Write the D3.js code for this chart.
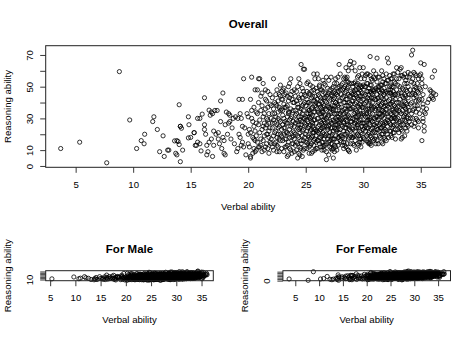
<!DOCTYPE html>
<html><head><meta charset="utf-8">
<script src="https://cdn.jsdelivr.net/npm/d3@7/dist/d3.min.js"></script>
<style>
body{margin:0;background:#fff;}
svg text{font-family:"Liberation Sans",Arial,Helvetica,sans-serif;fill:#000;}
</style></head><body>
<svg id="chart" width="474" height="338"></svg>
<script>
// ---------- DATA ----------
const xTicks = [5,10,15,20,25,30,35];
const overallYTicks = [0,10,20,30,40,50,60,70];
const overallYLabels = [0,10,30,50,70];
const maleYTicks = [10,20,30,40,50,60,70];
const maleYLabels = [10];
const femaleYTicks = [0,10,20,30,40,50,60];
const femaleYLabels = [0];
const titles = ["Overall","For Male","For Female"];
const xTitle = "Verbal ability";
const yTitle = "Reasoning ability";

// [verbal, reasoning]
const malePoints = [
[5.35,15],[9.7,29],[10.7,16],[11.0,20],[11.8,31],[12.1,23],[12.6,19],[13.1,10],[13.8,16],[13.7,8],[14.0,13.5],[14.1,25],[14.3,10],[14.8,31],[15.0,18],[15.3,21],[15.4,13],[15.6,15],[15.8,30],[15.9,9.5],[16.2,43],[16.2,26],[16.3,20],[16.4,13],[16.7,32],[16.8,17],[17.0,22],[17.3,35],[17.4,17],[17.4,21],[17.6,41],[17.7,11],[17.8,18],[17.9,16],[18.0,7],[18.0,26],[18.3,33],[18.3,27],[18.4,28],[18.7,30],[19.1,30],[19.0,9],[19.2,42],[19.2,20],[19.3,33],[19.5,15],[19.5,25],[19.7,24],[19.6,55],[19.8,7],[18.6,24],[19.4,13],
[20.1,23],[20.2,21],[20.0,14],[20.3,56],[20.5,37],[20.6,48],[20.4,18],[20.7,27],[20.2,5],[20.8,33],[20.9,12],[20.5,25],[20.3,30],[20.7,10],[20.6,16],[20.9,40],[20.4,8],
[21.0,55],[21.1,44],[21.2,38],[21.3,25],[21.4,19],[21.5,12],[21.6,30],[21.7,47],[21.8,22],[21.9,15],[21.2,9],[21.4,33],[21.6,41],[21.8,27],[21.1,17],[21.3,52],[21.5,36],[21.7,11],[21.9,24],[21.0,29],[21.6,20],[21.8,8],
[22.0,17],[22.1,24],[22.2,55],[22.3,40],[22.4,31],[22.5,13],[22.6,20],[22.7,45],[22.8,28],[22.9,36],[22.2,10],[22.4,22],[22.6,34],[22.8,16],[22.1,43],[22.3,27],[22.5,38],[22.7,9],[22.9,19],[22.0,30],[22.3,14],[22.5,48],[22.7,25],[22.9,42],[22.1,33],[22.6,12],[22.8,51],
[23.0,48],[23.1,20],[23.2,12],[23.3,37],[23.4,27],[23.5,15],[23.6,43],[23.7,55],[23.8,31],[23.9,22],[23.1,9],[23.3,17],[23.5,33],[23.7,25],[23.9,40],[23.2,45],[23.4,13],[23.6,29],[23.8,18],[23.0,35],[23.2,24],[23.4,38],[23.6,11],[23.8,47],[23.1,30],[23.3,21],[23.5,7],[23.7,36],[23.9,14],[23.5,50],[23.0,26],[23.8,42],
[24.0,25],[24.1,35],[24.2,15],[24.3,5],[24.4,55],[24.5,42],[24.6,64],[24.7,6],[24.8,61],[24.9,30],[24.1,20],[24.3,28],[24.5,12],[24.7,38],[24.9,45],[24.2,33],[24.4,18],[24.6,26],[24.8,10],[24.0,40],[24.2,47],[24.4,23],[24.6,31],[24.8,16],[24.1,13],[24.3,37],[24.5,21],[24.7,49],[24.9,27],[24.0,9],[24.4,43],[24.6,14],[24.8,35],[24.3,50],[24.5,29],[24.7,19],[24.9,11],
[25.0,38],[25.1,22],[25.2,14],[25.3,46],[25.4,30],[25.5,8],[25.6,27],[25.7,58],[25.8,41],[25.9,19],[25.1,33],[25.3,12],[25.5,36],[25.7,24],[25.9,49],[25.2,28],[25.4,17],[25.6,44],[25.8,10],[25.0,31],[25.2,53],[25.4,39],[25.6,21],[25.8,34],[25.1,15],[25.3,25],[25.5,43],[25.7,13],[25.9,37],[25.0,20],[25.2,40],[25.4,26],[25.6,32],[25.8,23],[25.1,47],[25.3,35],[25.5,18],[25.7,29],[25.9,11],[25.4,51],[25.6,9],[25.8,55],
[26.0,30],[26.1,45],[26.2,50],[26.3,18],[26.4,36],[26.5,24],[26.6,13],[26.7,41],[26.8,4],[26.9,28],[26.1,55],[26.3,33],[26.5,47],[26.7,19],[26.9,38],[26.2,22],[26.4,10],[26.6,31],[26.8,44],[26.0,16],[26.2,39],[26.4,27],[26.6,52],[26.8,20],[26.1,34],[26.3,12],[26.5,29],[26.7,46],[26.9,23],[26.0,42],[26.2,26],[26.4,48],[26.6,17],[26.8,35],[26.1,21],[26.3,43],[26.5,15],[26.7,32],[26.9,49],[26.0,11],[26.4,40],[26.6,25],[26.8,56],[26.2,14],[26.5,37],
[27.0,7],[27.1,34],[27.2,45],[27.3,20],[27.4,29],[27.5,13],[27.6,40],[27.7,52],[27.8,26],[27.9,64],[27.1,16],[27.3,38],[27.5,47],[27.7,22],[27.9,33],[27.2,11],[27.4,42],[27.6,30],[27.8,18],[27.0,25],[27.2,36],[27.4,50],[27.6,23],[27.8,44],[27.1,28],[27.3,14],[27.5,33],[27.7,39],[27.9,21],[27.0,46],[27.2,19],[27.4,35],[27.6,12],[27.8,31],[27.1,48],[27.3,27],[27.5,24],[27.7,15],[27.9,41],[27.0,37],[27.4,17],[27.6,55],[27.8,49],[27.3,10],[27.5,43],[27.2,56],[27.9,27],
[28.0,23],[28.1,37],[28.2,48],[28.3,15],[28.4,31],[28.5,55],[28.6,26],[28.7,10],[28.8,44],[28.9,66],[28.1,19],[28.3,40],[28.5,34],[28.7,50],[28.9,28],[28.2,13],[28.4,46],[28.6,21],[28.8,36],[28.0,41],[28.2,30],[28.4,17],[28.6,53],[28.8,25],[28.1,45],[28.3,27],[28.5,20],[28.7,38],[28.9,14],[28.0,33],[28.2,52],[28.4,24],[28.6,42],[28.8,18],[28.1,29],[28.3,49],[28.5,12],[28.7,32],[28.9,47],[28.0,16],[28.4,56],[28.6,35],[28.8,9],[28.3,22],[28.7,60],[28.5,42],[28.9,39],
[29.0,46],[29.1,30],[29.2,65],[29.3,22],[29.4,10],[29.5,38],[29.6,49],[29.7,17],[29.8,55],[29.9,27],[29.1,41],[29.3,34],[29.5,25],[29.7,44],[29.9,15],[29.2,19],[29.4,51],[29.6,32],[29.8,21],[29.0,36],[29.2,43],[29.4,28],[29.6,13],[29.8,47],[29.1,23],[29.3,53],[29.5,31],[29.7,39],[29.9,50],[29.0,18],[29.2,27],[29.4,40],[29.6,57],[29.8,33],[29.1,14],[29.3,45],[29.5,20],[29.7,29],[29.9,37],[29.0,62],[29.4,24],[29.6,42],[29.8,12],[29.3,48],[29.7,62],[29.5,52],[29.9,44],
[30.0,62],[30.1,44],[30.2,31],[30.3,16],[30.4,52],[30.5,27],[30.6,69],[30.7,38],[30.8,21],[30.9,47],[30.1,24],[30.3,35],[30.5,49],[30.7,13],[30.9,30],[30.2,57],[30.4,20],[30.6,41],[30.8,33],[30.0,18],[30.2,45],[30.4,36],[30.6,26],[30.8,54],[30.1,39],[30.3,28],[30.5,14],[30.7,46],[30.9,22],[30.0,33],[30.2,25],[30.4,43],[30.6,19],[30.8,40],[30.1,50],[30.3,47],[30.5,34],[30.7,29],[30.9,56],[30.0,27],[30.4,15],[30.6,51],[30.8,17],[30.3,58],[30.7,23],[30.5,42],[30.9,37],
[31.0,48],[31.1,25],[31.2,68],[31.3,37],[31.4,19],[31.5,44],[31.6,31],[31.7,53],[31.8,22],[31.9,40],[31.1,14],[31.3,29],[31.5,51],[31.7,35],[31.9,17],[31.2,45],[31.4,33],[31.6,24],[31.8,49],[31.0,21],[31.2,38],[31.4,56],[31.6,15],[31.8,30],[31.1,42],[31.3,50],[31.5,27],[31.7,20],[31.9,46],[31.0,35],[31.2,16],[31.4,26],[31.6,43],[31.8,37],[31.1,58],[31.3,23],[31.5,38],[31.7,47],[31.9,28],[31.0,55],[31.4,41],[31.6,60],[31.8,18],[31.3,14],[31.7,32],
[32.0,16],[32.1,68],[32.2,65],[32.3,42],[32.4,30],[32.5,50],[32.6,25],[32.7,38],[32.8,17],[32.9,62],[32.1,46],[32.3,22],[32.5,35],[32.7,53],[32.9,29],[32.2,48],[32.4,19],[32.6,41],[32.8,33],[32.0,27],[32.2,37],[32.4,55],[32.6,31],[32.8,45],[32.1,20],[32.3,50],[32.5,24],[32.7,45],[32.9,36],[32.0,43],[32.2,28],[32.4,39],[32.6,58],[32.8,23],[32.1,33],[32.3,57],[32.5,18],[32.7,30],[32.9,48],[32.0,52],[32.4,46],[32.6,21],
[33.0,30],[33.1,55],[33.2,61],[33.3,17],[33.4,44],[33.5,26],[33.6,52],[33.7,36],[33.8,22],[33.9,59],[33.1,40],[33.3,33],[33.5,48],[33.7,28],[33.9,43],[33.2,24],[33.4,35],[33.6,19],[33.8,47],[33.0,45],[33.2,50],[33.4,29],[33.6,41],[33.8,31],[33.1,21],[33.3,46],[33.5,38],[33.7,54],[33.9,25],[33.0,37],[33.4,57],[33.6,32],[33.8,39],[33.3,26],[33.7,44],
[34.0,45],[34.1,30],[34.2,70],[34.3,73],[34.4,25],[34.5,50],[34.6,30],[34.7,38],[34.8,55],[34.9,42],[34.1,58],[34.3,35],[34.5,27],[34.7,47],[34.9,33],[34.2,40],[34.4,52],[34.6,44],[34.8,36],[34.0,56],[34.2,26],[34.4,48],[34.6,57],[34.8,28],[34.5,38],
[35.0,65],[35.0,58],[35.1,42],[35.1,16],[35.2,39],[35.2,30],[35.3,64],[35.3,25],[35.5,36],[35.8,48],[35.9,44],[36.0,56],[36.1,46],[35.4,50],[35.6,40]
];
const femalePoints = [
[3.7,11],[7.7,2],[8.8,59.5],[10.3,11],[10.95,14],[11.7,28],[12.3,9],[12.7,6],[13.0,10],[13.6,15.8],[13.9,15.4],[13.8,7],[14.0,38.6],[14.1,2.7],[14.2,23.8],[14.1,25],[14.85,26],[14.8,17.7],[15.3,21],[15.5,13],[15.8,14],[16.0,32.7],[16.2,23],[16.4,7],[16.5,9],[16.6,35.2],[16.8,34],[16.9,33],[16.9,6],[17.1,35],[17.2,20],[17.5,14],[17.8,46],[17.9,8],[18.1,34],[18.4,32],[18.5,17],[18.9,31],[19.1,11],[19.3,18],[19.4,30],[19.6,12],[19.5,42],[18.2,20],[17.6,28],[17.0,13],[18.8,14],[19.9,33],[16.6,15],[15.6,30],
[20.0,31],[20.2,6],[20.1,12],[20.8,48],[20.9,55],[20.6,22],[20.3,35],[20.7,19],[20.5,11],[20.4,28],[20.8,15],[20.2,42],[20.6,9],[20.9,26],[20.0,20],[20.7,34],[20.5,17],
[21.0,21],[21.1,13],[21.2,46],[21.3,31],[21.4,27],[21.5,42],[21.6,14],[21.7,37],[21.8,18],[21.9,45],[21.2,23],[21.4,10],[21.6,26],[21.8,33],[21.1,35],[21.3,16],[21.5,24],[21.7,20],[21.9,39],[21.0,12],[21.5,48],[21.7,29],
[22.0,38],[22.1,12],[22.2,29],[22.3,21],[22.4,45],[22.5,26],[22.6,41],[22.7,17],[22.8,35],[22.9,11],[22.2,19],[22.4,15],[22.6,24],[22.8,44],[22.1,27],[22.3,33],[22.5,9],[22.7,37],[22.9,23],[22.0,14],[22.4,39],[22.6,30],[22.8,20],[22.2,36],[22.5,18],[22.7,29],[22.9,47],
[23.0,16],[23.1,39],[23.2,28],[23.3,46],[23.4,21],[23.5,34],[23.6,18],[23.7,10],[23.8,26],[23.9,35],[23.1,24],[23.3,12],[23.5,41],[23.7,30],[23.9,19],[23.2,37],[23.4,31],[23.6,23],[23.8,14],[23.0,42],[23.2,17],[23.4,44],[23.6,34],[23.8,8],[23.1,49],[23.3,27],[23.5,20],[23.7,45],[23.9,28],[23.4,6],[23.6,52],[23.0,32],
[24.0,17],[24.1,44],[24.2,29],[24.3,39],[24.4,8],[24.5,24],[24.6,36],[24.7,22],[24.8,47],[24.9,61],[24.1,32],[24.3,14],[24.5,34],[24.7,28],[24.9,18],[24.2,41],[24.4,26],[24.6,11],[24.8,30],[24.0,21],[24.2,10],[24.4,37],[24.6,45],[24.8,23],[24.1,27],[24.3,19],[24.5,52],[24.7,33],[24.9,40],[24.0,48],[24.4,31],[24.6,16],[24.8,39],[24.3,24],[24.5,7],[24.7,43],[24.9,25],
[25.0,26],[25.1,42],[25.2,19],[25.3,31],[25.4,45],[25.5,23],[25.6,37],[25.7,16],[25.8,29],[25.9,40],[25.1,11],[25.3,35],[25.5,28],[25.7,48],[25.9,22],[25.2,33],[25.4,13],[25.6,25],[25.8,44],[25.0,15],[25.2,36],[25.4,22],[25.6,50],[25.8,17],[25.1,29],[25.3,40],[25.5,14],[25.7,34],[25.9,27],[25.0,44],[25.2,24],[25.4,33],[25.6,19],[25.8,38],[25.1,52],[25.3,18],[25.5,31],[25.7,41],[25.9,15],[25.3,8],[25.5,47],[25.7,21],
[26.0,47],[26.1,25],[26.2,33],[26.3,41],[26.4,19],[26.5,54],[26.6,38],[26.7,27],[26.8,14],[26.9,45],[26.1,16],[26.3,28],[26.5,21],[26.7,36],[26.9,31],[26.2,44],[26.4,31],[26.6,10],[26.8,25],[26.0,36],[26.2,18],[26.4,24],[26.6,43],[26.8,30],[26.1,39],[26.3,23],[26.5,34],[26.7,13],[26.9,17],[26.0,22],[26.2,51],[26.4,15],[26.6,28],[26.8,40],[26.1,30],[26.3,48],[26.5,12],[26.7,43],[26.9,24],[26.0,58],[26.4,34],[26.6,20],[26.8,9],[26.3,37],[26.7,51],
[27.0,32],[27.1,21],[27.2,27],[27.3,49],[27.4,36],[27.5,17],[27.6,46],[27.7,29],[27.8,13],[27.9,37],[27.1,41],[27.3,24],[27.5,38],[27.7,10],[27.9,18],[27.2,33],[27.4,22],[27.6,35],[27.8,47],[27.0,15],[27.2,42],[27.4,11],[27.6,26],[27.8,38],[27.1,12],[27.3,31],[27.5,28],[27.7,45],[27.9,29],[27.0,19],[27.2,24],[27.4,46],[27.6,19],[27.8,23],[27.1,37],[27.3,44],[27.5,52],[27.7,33],[27.9,50],[27.0,54],[27.4,5],[27.6,40],[27.8,56],[27.3,17],[27.5,9],[27.7,26],[27.2,14],
[28.0,48],[28.1,26],[28.2,35],[28.3,55],[28.4,20],[28.5,29],[28.6,14],[28.7,45],[28.8,31],[28.9,22],[28.1,51],[28.3,33],[28.5,47],[28.7,17],[28.9,36],[28.2,18],[28.4,40],[28.6,28],[28.8,52],[28.0,30],[28.2,43],[28.4,13],[28.6,49],[28.8,23],[28.1,34],[28.3,11],[28.5,38],[28.7,26],[28.9,44],[28.0,19],[28.2,25],[28.4,36],[28.6,56],[28.8,40],[28.1,15],[28.3,44],[28.5,24],[28.7,53],[28.9,19],[28.0,58],[28.4,50],[28.6,31],[28.8,64],[28.3,28],[28.7,10],[28.5,62],[28.9,30],
[29.0,28],[29.1,50],[29.2,33],[29.3,16],[29.4,44],[29.5,56],[29.6,24],[29.7,35],[29.8,41],[29.9,20],[29.1,37],[29.3,27],[29.5,14],[29.7,51],[29.9,32],[29.2,47],[29.4,35],[29.6,19],[29.8,29],[29.0,24],[29.2,13],[29.4,19],[29.6,46],[29.8,38],[29.1,18],[29.3,39],[29.5,43],[29.7,22],[29.9,58],[29.0,41],[29.2,52],[29.4,31],[29.6,28],[29.8,17],[29.1,45],[29.3,60],[29.5,26],[29.7,48],[29.9,25],[29.0,52],[29.4,48],[29.6,37],[29.8,50],[29.3,31],[29.7,15],[29.5,34],[29.9,46],
[30.0,42],[30.1,17],[30.2,50],[30.3,24],[30.4,29],[30.5,45],[30.6,33],[30.7,55],[30.8,28],[30.9,16],[30.1,32],[30.3,41],[30.5,21],[30.7,37],[30.9,48],[30.2,36],[30.4,58],[30.6,14],[30.8,45],[30.0,51],[30.2,22],[30.4,31],[30.6,47],[30.8,24],[30.1,55],[30.3,19],[30.5,38],[30.7,51],[30.9,26],[30.0,37],[30.2,40],[30.4,24],[30.6,30],[30.8,48],[30.1,27],[30.3,52],[30.5,29],[30.7,18],[30.9,43],[30.0,23],[30.4,47],[30.6,57],[30.8,36],[30.3,33],[30.7,43],[30.5,15],[30.9,60],
[31.0,30],[31.1,49],[31.2,23],[31.3,43],[31.4,36],[31.5,18],[31.6,48],[31.7,27],[31.8,42],[31.9,33],[31.1,36],[31.3,56],[31.5,24],[31.7,40],[31.9,52],[31.2,31],[31.4,47],[31.6,20],[31.8,26],[31.0,42],[31.2,53],[31.4,22],[31.6,35],[31.8,55],[31.1,19],[31.3,33],[31.5,46],[31.7,14],[31.9,23],[31.0,26],[31.2,27],[31.4,50],[31.6,39],[31.8,45],[31.1,31],[31.3,40],[31.5,33],[31.7,57],[31.9,38],[31.0,17],[31.4,30],[31.6,51],[31.8,34],[31.3,48],[31.7,25],
[32.0,36],[32.1,29],[32.2,18],[32.3,34],[32.4,48],[32.5,40],[32.6,50],[32.7,21],[32.8,42],[32.9,26],[32.1,54],[32.3,27],[32.5,45],[32.7,34],[32.9,55],[32.2,41],[32.4,26],[32.6,36],[32.8,52],[32.0,47],[32.2,54],[32.4,33],[32.6,28],[32.8,30],[32.1,38],[32.3,46],[32.5,30],[32.7,58],[32.9,40],[32.0,22],[32.2,31],[32.4,51],[32.6,44],[32.8,37],[32.1,25],[32.3,39],[32.5,55],[32.7,26],[32.9,33],[32.0,58],[32.4,22],[32.6,47],
[33.0,51],[33.1,27],[33.2,34],[33.3,57],[33.4,22],[33.5,43],[33.6,29],[33.7,48],[33.8,56],[33.9,37],[33.1,46],[33.3,39],[33.5,31],[33.7,24],[33.9,50],[33.2,42],[33.4,49],[33.6,58],[33.8,26],[33.0,23],[33.2,28],[33.4,38],[33.6,45],[33.8,34],[33.1,35],[33.3,23],[33.5,56],[33.7,40],[33.9,30],[33.0,59],[33.4,18],[33.6,37],[33.8,52],[33.3,62],[33.7,33],
[34.0,35],[34.1,48],[34.2,53],[34.3,30],[34.4,43],[34.5,58],[34.6,34],[34.7,52],[34.8,24],[34.9,49],[34.1,39],[34.3,46],[34.5,45],[34.7,29],[34.9,57],[34.2,33],[34.4,59],[34.6,41],[34.8,46],[34.0,28],[34.2,45],[34.4,36],[34.6,49],[34.8,41],[34.3,55],
[35.0,48],[35.1,55],[35.2,37],[35.2,28],[35.3,34],[35.3,22],[35.2,45],[35.7,42],[35.9,47],[36.1,42],[36.2,60],[36.3,45],[35.4,33],[35.1,52],[36.0,43]
];
const overallPoints = malePoints.concat(femalePoints);

// ---------- LAYOUT ----------
const svg = d3.select("#chart");
const panels = [
  {title:titles[0], pts:overallPoints, yTicks:overallYTicks, yLabels:overallYLabels, box:{l:45.7,r:450.7,t:45.7,b:167.3}},
  {title:titles[1], pts:malePoints, yTicks:maleYTicks, yLabels:maleYLabels, box:{l:45.7,r:213.3,t:270.7,b:280.7}},
  {title:titles[2], pts:femalePoints, yTicks:femaleYTicks, yLabels:femaleYLabels, box:{l:282.9,r:450.5,t:270.7,b:280.7}}
];

function rDomain(vals){
  const [a,b] = d3.extent(vals); const e = (b-a)*0.04;
  return [a-e, b+e];
}

panels.forEach(p => {
  const B = p.box;
  const x = d3.scaleLinear().domain(rDomain(p.pts.map(d=>d[0]))).range([B.l,B.r]);
  const y = d3.scaleLinear().domain(rDomain(p.pts.map(d=>d[1]))).range([B.b,B.t]);
  const g = svg.append("g");

  // points
  g.append("g").selectAll("circle").data(p.pts).join("circle")
    .attr("cx", d=>x(d[0])).attr("cy", d=>y(d[1])).attr("r", 2.1)
    .attr("fill","none").attr("stroke","#000").attr("stroke-width",0.8);

  // x axis
  const xa = g.append("g").attr("transform",`translate(0,${B.b})`)
    .call(d3.axisBottom(x).tickValues(xTicks).tickSize(5.5).tickFormat(d3.format("d")));
  xa.select(".domain").remove();
  xa.selectAll("line").attr("stroke","#222").attr("stroke-width",0.9);
  xa.selectAll("text").attr("y",20.6).attr("dy",0).attr("font-size","9.6px")
    .attr("fill","#000").style("font-family",'"Liberation Sans",Arial,sans-serif');

  // y axis
  const ya = g.append("g").attr("transform",`translate(${B.l},0)`)
    .call(d3.axisLeft(y).tickValues(p.yTicks).tickSize(5.5)
      .tickFormat(d => p.yLabels.includes(d) ? String(d) : ""));
  ya.select(".domain").remove();
  ya.selectAll("line").attr("stroke","#222").attr("stroke-width",0.9);
  ya.selectAll("text").attr("x",0).attr("y",-13).attr("dy",0)
    .attr("transform","rotate(-90)").attr("text-anchor","middle")
    .attr("font-size","9.6px").attr("fill","#000")
    .style("font-family",'"Liberation Sans",Arial,sans-serif');

  // box
  g.append("rect").attr("x",B.l).attr("y",B.t).attr("width",B.r-B.l).attr("height",B.b-B.t)
    .attr("fill","none").attr("stroke","#222").attr("stroke-width",1);

  // titles
  g.append("text").attr("x",(B.l+B.r)/2).attr("y",B.t-18.2).attr("text-anchor","middle")
    .attr("font-size","11.5px").attr("font-weight","bold").text(p.title);
  g.append("text").attr("x",(B.l+B.r)/2).attr("y",B.b+42.6).attr("text-anchor","middle")
    .attr("font-size","9.6px").text(xTitle);
  g.append("text").attr("transform",`translate(${B.l-35.2},${(B.t+B.b)/2}) rotate(-90)`)
    .attr("text-anchor","middle").attr("font-size","9.6px").text(yTitle);
});
</script>
</body></html>
